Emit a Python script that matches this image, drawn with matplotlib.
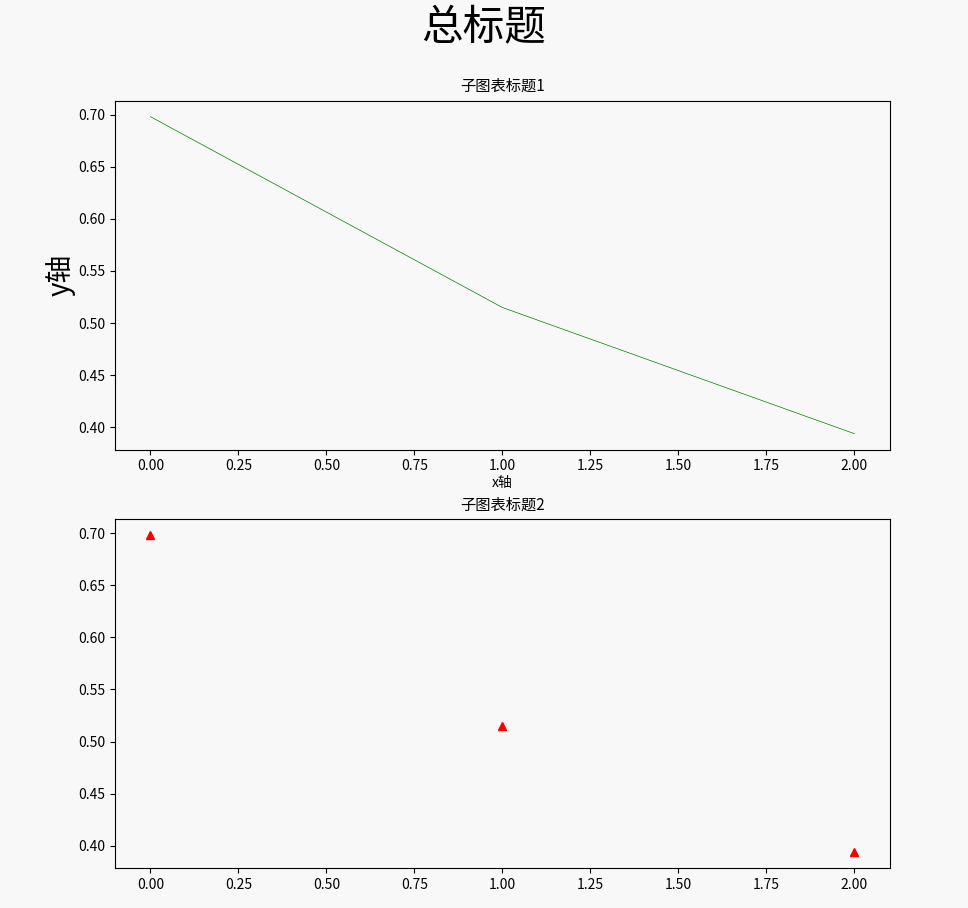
import matplotlib
matplotlib.use("Agg")
import matplotlib.pyplot as plt

plt.rcParams['font.family'] = ['Noto Sans CJK SC', 'DejaVu Sans']
plt.rcParams['axes.unicode_minus'] = False

x = [0, 1, 2]
y = [0.698, 0.515, 0.394]

fig = plt.figure(figsize=(9.68, 9.08), dpi=100, facecolor='#f8f8f8')
fig.subplots_adjust(left=0.119, right=0.919, top=0.889, bottom=0.044, hspace=0.2)
fig.suptitle('总标题', fontsize=30, y=0.991)

ax1 = fig.add_subplot(2, 1, 1)
ax1.set_facecolor('#f8f8f8')
ax1.plot(x, y, color='green', linewidth=0.5)
ax1.set_title('子图表标题1', fontsize=11, pad=7)
ax1.set_xlabel('x轴', fontsize=10, labelpad=2)
ax1.set_ylabel('y轴', fontsize=20, labelpad=2)

ax2 = fig.add_subplot(2, 1, 2)
ax2.set_facecolor('#f8f8f8')
ax2.plot(x, y, '^', color='red', markersize=6, linestyle='none')
ax2.set_title('子图表标题2', fontsize=11, pad=7)

for ax in (ax1, ax2):
    ax.set_yticks([0.40, 0.45, 0.50, 0.55, 0.60, 0.65, 0.70])

fig.savefig('out.png', facecolor=fig.get_facecolor())
